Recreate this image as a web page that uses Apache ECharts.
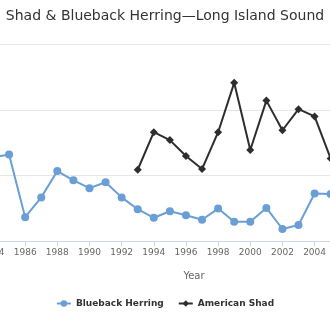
<!DOCTYPE html>
<html>
<head>
<meta charset="utf-8">
<script src="https://cdn.jsdelivr.net/npm/echarts@6/dist/echarts.min.js"></script>
<style>
  html, body { margin: 0; padding: 0; background: #fff; overflow: hidden; width: 330px; height: 330px; }
  #chart { position: absolute; left: -75px; top: 0; width: 480px; height: 330px; }
</style>
</head>
<body>
<div id="chart"></div>
<script>
// Survey years on the x axis
const years = ['1984','1985','1986','1987','1988','1989','1990','1991','1992','1993','1994','1995','1996',
               '1997','1998','1999','2000','2001','2002','2003','2004','2005','2006','2007','2008','2009'];

// Blueback Herring index, 1984-2005
const blueback = [1.28, 1.32, 0.37, 0.67, 1.07, 0.93, 0.81, 0.90, 0.67, 0.49, 0.36, 0.46, 0.40,
                  0.33, 0.50, 0.30, 0.30, 0.51, 0.19, 0.25, 0.73, 0.72];

// American Shad index, sampled from 1993 onward
const shad = [null, null, null, null, null, null, null, null, null, 1.09, 1.66, 1.54, 1.30,
              1.10, 1.66, 2.41, 1.39, 2.14, 1.69, 2.01, 1.90, 1.26];

// Value axis ticks
const yTicks = { min: 0, max: 3, interval: 1 };

const font = 'DejaVu Sans, sans-serif';
const chart = echarts.init(document.getElementById('chart'), null, { renderer: 'canvas' });

chart.setOption({
  backgroundColor: '#ffffff',
  animation: false,
  title: {
    text: 'Shad & Blueback Herring\u2014Long Island Sound',
    left: 'center',
    top: 4,
    textStyle: { fontFamily: font, fontSize: 14, fontWeight: 'normal', color: '#333333' }
  },
  legend: {
    top: 294,
    left: 'center',
    itemWidth: 14,
    itemHeight: 8,
    itemGap: 14,
    textStyle: { fontFamily: font, fontSize: 9, fontWeight: 'bold', color: '#333333' },
    data: ['Blueback Herring', 'American Shad']
  },
  grid: { left: 68, right: 10, top: 44, bottom: 88.5, outerBoundsMode: 'none' },
  xAxis: {
    type: 'category',
    data: years,
    boundaryGap: false,
    name: 'Year',
    nameLocation: 'middle',
    nameGap: 30,
    nameTextStyle: { fontFamily: font, fontSize: 10, color: '#666666' },
    axisLine: { lineStyle: { color: '#ccd6eb', width: 1 } },
    axisTick: { show: true, interval: 1, length: 5, lineStyle: { color: '#ccd6eb' } },
    axisLabel: { interval: 1, margin: 7, fontFamily: font, fontSize: 9, color: '#666666' },
    splitLine: { show: false }
  },
  yAxis: {
    type: 'value',
    min: yTicks.min,
    max: yTicks.max,
    interval: yTicks.interval,
    axisLine: { show: false },
    axisTick: { show: false },
    axisLabel: { fontFamily: font, fontSize: 9, color: '#666666' },
    splitLine: { lineStyle: { color: '#e6e6e6', width: 1 } }
  },
  series: [
    {
      name: 'Blueback Herring',
      type: 'line',
      data: blueback,
      symbol: 'circle',
      symbolSize: 8,
      color: '#6a9fd6',
      lineStyle: { width: 2, color: '#6a9fd6' },
      itemStyle: { color: '#6a9fd6' }
    },
    {
      name: 'American Shad',
      type: 'line',
      data: shad,
      connectNulls: false,
      symbol: 'diamond',
      symbolSize: 8,
      color: '#2e2e2e',
      lineStyle: { width: 2, color: '#2e2e2e' },
      itemStyle: { color: '#2e2e2e' }
    }
  ]
});
</script>
</body>
</html>
